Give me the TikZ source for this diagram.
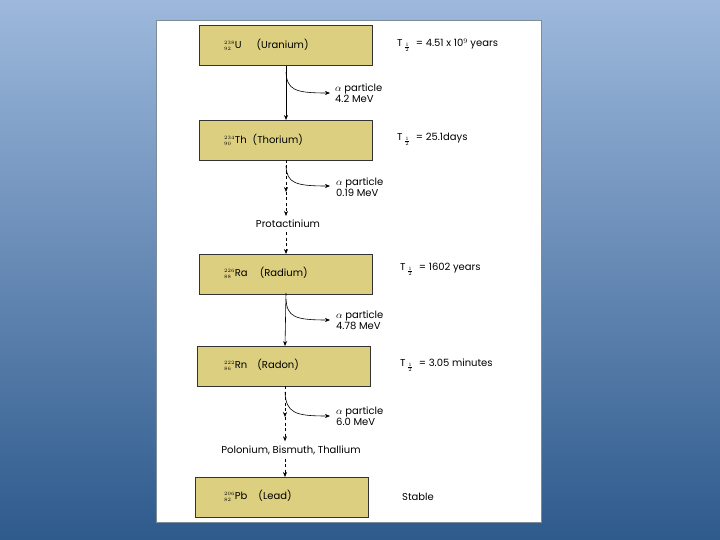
\documentclass[tikz,border=0pt]{standalone}
\usepackage{fontspec}
\setmainfont{Poppins}
\usetikzlibrary{arrows.meta}
\definecolor{boxf}{HTML}{DCCF80}
\definecolor{bgtop}{HTML}{9DB8DC}
\definecolor{bgbot}{HTML}{2E5A8C}
\newcommand{\half}{T\,$_{\frac12}$\ \ =\ }
\begin{document}
\begin{tikzpicture}[x=1pt,y=-1pt,font=\fontsize{10}{11}\selectfont,
  nbox/.style={draw=black!80,fill=boxf,line width=0.6pt,minimum width=173pt,minimum height=40pt,anchor=north west,inner sep=0pt},
  arr/.style={-{Stealth[length=5pt,width=4pt]},line width=0.6pt},
  darr/.style={arr,dash pattern=on 3pt off 2.5pt},
  lab/.style={align=left,anchor=west,inner sep=0pt,font=\fontsize{10}{11}\selectfont}]
\useasboundingbox (0,0) rectangle (720,540);
\shade[top color=bgtop,bottom color=bgbot] (0,0) rectangle (720,540);
\draw[fill=white,draw=black!40!cyan!30!gray,line width=0.8pt] (156,20) rectangle (541,522);
\node[nbox] (u) at (199,25) {};
\node[nbox] (th) at (199,120) {};
\node[nbox] (ra) at (199,254) {};
\node[nbox] (rn) at (197,346) {};
\node[nbox] (pb) at (195,477) {};
% labels in boxes
\node[anchor=west,inner sep=0pt] (ut) at (224,45) {$^{\scriptscriptstyle 238}_{\scriptscriptstyle 92}$U\hspace{15pt}(Uranium)};
\node[anchor=west,inner sep=0pt] (tht) at (224,140) {$^{\scriptscriptstyle 234}_{\scriptscriptstyle 90}$Th\hspace{6pt}(Thorium)};
\node[anchor=west,inner sep=0pt] (rat) at (224,273) {$^{\scriptscriptstyle 226}_{\scriptscriptstyle 88}$Ra\hspace{12pt}(Radium)};
\node[anchor=west,inner sep=0pt] (rnt) at (224,365) {$^{\scriptscriptstyle 222}_{\scriptscriptstyle 86}$Rn\hspace{10pt}(Radon)};
\node[anchor=west,inner sep=0pt] (pbt) at (224,496) {$^{\scriptscriptstyle 206}_{\scriptscriptstyle 82}$Pb\hspace{11pt}(Lead)};
% half-lives
\node[anchor=west,inner sep=0pt] (h1) at (397,45) {\half 4.51 x 10$^9$ years};
\node[anchor=west,inner sep=0pt] (h2) at (397,139) {\half 25.1days};
\node[anchor=west,inner sep=0pt] (h3) at (400,269) {\half 1602 years};
\node[anchor=west,inner sep=0pt] (h4) at (400,365) {\half 3.05 minutes};
\node[anchor=west,inner sep=0pt] (h5) at (402,497) {Stable};
% alpha labels
\node[lab] (a1) at (335,93) {$\alpha$ particle\\4.2 MeV};
\node[lab] (a2) at (336,187) {$\alpha$ particle\\0.19 MeV};
\node[lab] (a3) at (336,320) {$\alpha$ particle\\4.78 MeV};
\node[lab] (a4) at (336,416) {$\alpha$ particle\\6.0 MeV};
% intermediate labels
\node[inner sep=0pt] (pa) at (288,224) {Protactinium};
\node[inner sep=0pt] (po) at (291,450) {Polonium, Bismuth, Thallium};
% coordinates
\coordinate (c1) at (286,66); \coordinate (e1) at (330,93);
\coordinate (c2) at (286,160); \coordinate (e2) at (330,186);
\coordinate (c3) at (286,293); \coordinate (e3) at (330,320);
\coordinate (c4) at (285,386); \coordinate (e4) at (330,416);
\coordinate (m2) at (286,192); \coordinate (m4) at (285,417);
% main arrows
\draw[arr] (c1) -- (286,120);
\draw[arr] (c3) -- (285,346);
\draw[darr] (c2) -- (m2);
\draw[darr] (m2) -- ([yshift=4pt]pa.north -| m2);
\draw[darr] ([yshift=-4pt]pa.south -| m2) -- (286,254);
\draw[darr] (c4) -- (m4);
\draw[darr] (m4) -- ([yshift=4pt]po.north -| m4);
\draw[darr] ([yshift=-4pt]po.south -| m4) -- (285,477);
% alpha curves
\draw[arr] (286,72) .. controls (287,90) and (295,93) .. (e1);
\draw[arr] (286,166) .. controls (287,183) and (295,186) .. (e2);
\draw[arr] (286,299) .. controls (287,317) and (295,320) .. (e3);
\draw[arr] (285,392) .. controls (286,413) and (295,416) .. (e4);
\end{tikzpicture}
\end{document}
